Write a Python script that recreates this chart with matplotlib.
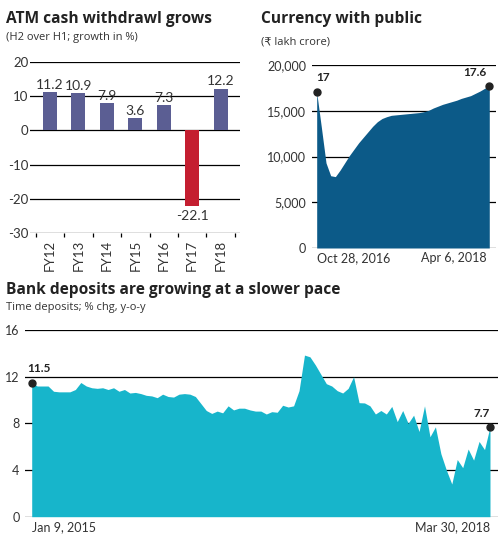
import matplotlib
matplotlib.use('Agg')
import matplotlib.pyplot as plt

plt.rcParams['font.family'] = ['Lato', 'DejaVu Sans']
plt.rcParams['axes.unicode_minus'] = False

# ATM cash withdrawal growth, H2 over H1 (%)
years = ['FY12', 'FY13', 'FY14', 'FY15', 'FY16', 'FY17', 'FY18']
atm_growth = [11.2, 10.9, 7.9, 3.6, 7.3, -22.1, 12.2]

# currency with public, fortnightly from Oct 28, 2016 to Apr 6, 2018
currency = [17000, 13200, 9300, 7900, 7800, 8500, 9300, 10100, 10800, 11500,
            12100, 12700, 13300, 13800, 14150, 14350, 14500, 14550, 14600, 14650,
            14700, 14750, 14800, 14900, 15050, 15300, 15500, 15700, 15850, 16000,
            16150, 16350, 16500, 16650, 16900, 17150, 17450, 17700]
currency_ticks = ['Oct 28, 2016', 'Apr 6, 2018']

# time deposits, % chg y-o-y, fortnightly from Jan 9, 2015 to Mar 30, 2018
deposits = [11.5, 11.2, 11.2, 11.2, 10.75, 10.7, 10.7, 10.7, 10.9, 11.5,
            11.2, 11.05, 11.0, 11.05, 10.9, 11.05, 10.75, 10.9, 10.6, 10.65,
            10.55, 10.4, 10.35, 10.2, 10.5, 10.3, 10.25, 10.5, 10.55, 10.5,
            10.3, 9.7, 9.1, 8.85, 9.05, 8.9, 9.5, 9.15, 9.3, 9.3,
            9.15, 9.05, 9.05, 8.8, 9.0, 8.95, 9.55, 9.4, 9.5, 10.8,
            13.85, 13.7, 13.0, 12.2, 11.4, 11.2, 10.8, 10.6, 11.0, 12.0,
            9.77, 9.75, 9.5, 8.8, 9.1, 8.8, 9.45, 8.15, 9.1, 8.0,
            8.7, 7.3, 9.5, 6.85, 7.7, 5.4, 4.0, 2.8, 4.9, 4.2,
            5.8, 4.85, 6.45, 5.75, 7.7]
deposit_ticks = ['Jan 9, 2015', 'Mar 30, 2018']

W, H = 503, 537
fig = plt.figure(figsize=(W / 100, H / 100), dpi=100)

TITLE = ['Open Sans', 'DejaVu Sans']


def px_axes(x0, y0, x1, y1):
    # axes from pixel box (top-left origin)
    return fig.add_axes([x0 / W, 1 - y1 / H, (x1 - x0) / W, (y1 - y0) / H])


def px_text(x, y, s, **kw):
    fig.text(x / W, 1 - y / H, s, **kw)


def clean(ax):
    for sp in ax.spines.values():
        sp.set_visible(False)
    ax.set_axisbelow(True)
    ax.grid(axis='y', color='black', lw=0.9)
    ax.grid(axis='x', visible=False)


# titles
px_text(6, 23, 'ATM cash withdrawl grows', fontsize=11.2, fontweight='bold', color='#222222', family=TITLE)
px_text(6, 40, '(H2 over H1; growth in %)', fontsize=8, color='#333333', family=TITLE)
px_text(261, 23, 'Currency with public', fontsize=11.2, fontweight='bold', color='#222222', family=TITLE)
px_text(261, 45, '(\u20b9 lakh crore)', fontsize=8, color='#333333', family=TITLE)
px_text(6, 294, 'Bank deposits are growing at a slower pace', fontsize=11.2, fontweight='bold',
        color='#222222', family=TITLE)
px_text(6, 310, 'Time deposits; % chg, y-o-y', fontsize=8, color='#333333', family=TITLE)

# --- ATM bars
ax1 = px_axes(30, 62, 240, 233)
clean(ax1)
x = range(len(years))
colors = ['#c41e30' if v < 0 else '#5b5e93' for v in atm_growth]
ax1.bar(x, atm_growth, width=0.5, color=colors, zorder=2)
for i, v in enumerate(atm_growth):
    if v >= 0:
        ax1.annotate(f'{v}', (i, v), xytext=(0, 1), textcoords='offset points',
                     ha='center', va='bottom', fontsize=10, color='#333333')
    else:
        ax1.annotate(f'{v}', (i, v), xytext=(0, -3), textcoords='offset points',
                     ha='center', va='top', fontsize=10, color='#333333')
ax1.set_ylim(-30, 20)
ax1.set_yticks(range(-30, 21, 10))
ax1.set_xlim(-0.7, 6.68)
ax1.set_xticks(list(x))
ax1.set_xticklabels(years, rotation=90)
ax1.set_xticks([i - 0.5 for i in range(len(years) + 1)], minor=True)
ax1.tick_params(axis='x', which='major', length=0, pad=5, labelsize=9.5, colors='#333333')
ax1.tick_params(axis='x', which='minor', length=3, width=0.9, color='black')
ax1.tick_params(axis='y', length=0, pad=1, labelsize=9.5, colors='#333333')

# --- currency area
ax2 = px_axes(311.7, 65, 496, 248)
clean(ax2)
xc = range(len(currency))
ax2.fill_between(xc, currency, 0, color='#0c5a88', lw=0, zorder=2)
ax2.plot([0, len(currency) - 1], [currency[0], currency[-1]], 'o', color='#222222',
         ms=5, zorder=3, clip_on=False)
ax2.annotate('17', (0, currency[0]), xytext=(0, 7), textcoords='offset points',
             ha='left', va='bottom', fontsize=8.5, fontweight='bold', color='#222222')
ax2.annotate('17.6', (len(currency) - 1, currency[-1]), xytext=(-2, 6), textcoords='offset points',
             ha='right', va='bottom', fontsize=8.5, fontweight='bold', color='#222222')
ax2.set_ylim(0, 20000)
ax2.set_yticks(range(0, 20001, 5000))
ax2.set_yticklabels([f'{v:,}' for v in range(0, 20001, 5000)])
ax2.set_xlim(-1.07, len(currency) - 1 + 1.44)
ax2.set_xticks([8, 29.5])
ax2.set_xticklabels(currency_ticks)
ax2.tick_params(axis='x', length=0, pad=3, labelsize=9, colors='#333333')
ax2.tick_params(axis='y', length=0, pad=4, labelsize=9, colors='#333333')

# --- deposits area
ax3 = px_axes(25, 330, 498, 516.7)
clean(ax3)
xd = range(len(deposits))
ax3.fill_between(xd, deposits, 0, color='#17b5cb', lw=0, zorder=2)
ax3.plot([0, len(deposits) - 1], [deposits[0], deposits[-1]], 'o', color='#222222',
         ms=5, zorder=3, clip_on=False)
ax3.annotate('11.5', (0, deposits[0]), xytext=(-3, 6), textcoords='offset points',
             ha='left', va='bottom', fontsize=8.5, fontweight='bold', color='#222222')
ax3.annotate('7.7', (len(deposits) - 1, deposits[-1]), xytext=(0, 6), textcoords='offset points',
             ha='right', va='bottom', fontsize=8.5, fontweight='bold', color='#222222')
ax3.set_ylim(0, 16)
ax3.set_yticks(range(0, 17, 4))
ax3.set_xlim(-1.23, len(deposits) - 1 + 1.47)
ax3.set_xticks([0, len(deposits) - 1])
ax3.set_xticklabels(deposit_ticks)
lbls = ax3.get_xticklabels()
lbls[0].set_ha('left')
lbls[1].set_ha('right')
ax3.tick_params(axis='x', length=0, pad=3, labelsize=9, colors='#333333')
ax3.tick_params(axis='y', length=0, pad=4, labelsize=9, colors='#333333')

fig.savefig('out.png', dpi=100, facecolor='white')
